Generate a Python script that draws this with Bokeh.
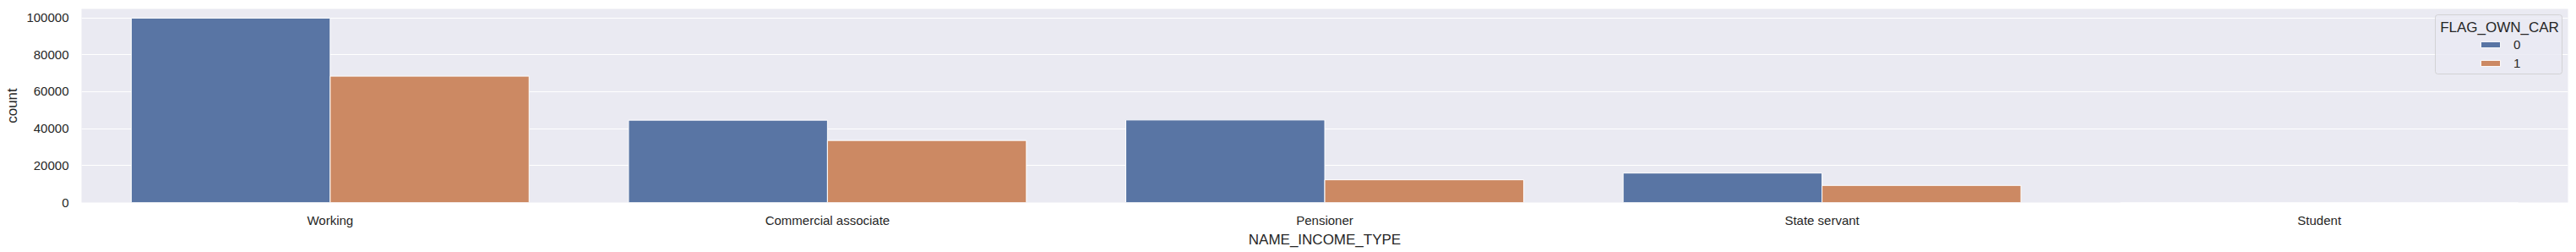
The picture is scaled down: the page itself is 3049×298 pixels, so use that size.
from bokeh.plotting import figure
from bokeh.models import (ColumnDataSource, FactorRange, Range1d, Legend, LegendItem,
                          BasicTickFormatter, FixedTicker, Label, BoxAnnotation)
from bokeh.transform import dodge
from bokeh.embed import file_html
from bokeh.resources import INLINE

categories = ["Working", "Commercial associate", "Pensioner", "State servant", "Student"]
hue_title = "FLAG_OWN_CAR"
hue_levels = ["0", "1"]
count_0 = [99850, 44580, 44700, 15950, 10]
count_1 = [68400, 33590, 12300, 9250, 6]
y_ticks = [0, 20000, 40000, 60000, 80000, 100000]

FONT = "Liberation Sans"
TEXT = "#262626"
BLUE = "#5975A4"
ORANGE = "#CC8963"

src = ColumnDataSource(dict(cat=categories, c0=count_0, c1=count_1))

ymax = max(max(count_0), max(count_1)) * 1.05

W, H = 3049, 298
BL, BR, BT, BB = 96, 10, 10, 59

p = figure(width=W, height=H,
           x_range=FactorRange(*categories, range_padding=0),
           y_range=Range1d(0, ymax),
           output_backend="svg", toolbar_location=None,
           min_border_left=BL, min_border_right=BR,
           min_border_top=BT, min_border_bottom=BB)

p.background_fill_color = "#EAEAF2"
p.border_fill_color = "white"
p.outline_line_color = None

r0 = p.vbar(x=dodge("cat", -0.2, range=p.x_range), top="c0", width=0.4, source=src,
            fill_color=BLUE, line_color="white", line_width=1)
r1 = p.vbar(x=dodge("cat", 0.2, range=p.x_range), top="c1", width=0.4, source=src,
            fill_color=ORANGE, line_color="white", line_width=1)

p.xgrid.grid_line_color = None
p.ygrid.grid_line_color = "white"
p.ygrid.grid_line_width = 1.2
p.ygrid.level = "underlay"

p.yaxis.ticker = FixedTicker(ticks=y_ticks)
p.yaxis.formatter = BasicTickFormatter(use_scientific=False)

for ax in (p.xaxis[0], p.yaxis[0]):
    ax.axis_line_color = None
    ax.major_tick_line_color = None
    ax.minor_tick_line_color = None
    ax.major_tick_out = 0
    ax.major_tick_in = 0
    ax.minor_tick_out = 0
    ax.major_label_text_font = FONT
    ax.major_label_text_font_size = "15px"
    ax.major_label_text_color = TEXT
    ax.axis_label_text_font = FONT
    ax.axis_label_text_font_size = "17px"
    ax.axis_label_text_color = TEXT
    ax.axis_label_text_font_style = "normal"

p.xaxis.axis_label = "NAME_INCOME_TYPE"
p.yaxis.axis_label = "count"
p.xaxis.major_label_standoff = 12
p.xaxis.axis_label_standoff = 2
p.yaxis.major_label_standoff = 15
p.yaxis.axis_label_standoff = 4

# legend frame (screen px relative to the plot frame, measured from bottom-left)
frame_h = H - BT - BB
box = BoxAnnotation(left=2882 - BL, right=3032 - BL,
                    top=frame_h - (17 - BT), bottom=frame_h - (87 - BT),
                    left_units="screen", right_units="screen",
                    top_units="screen", bottom_units="screen",
                    fill_color="#EAEAF2", fill_alpha=0.8,
                    line_color="#CCCCCC", line_alpha=0.8, line_width=1,
                    border_radius=3, level="annotation")
p.add_layout(box)

title = Label(x=2958 - BL, y=frame_h - (32 - BT), x_units="screen", y_units="screen",
              text=hue_title, text_font=FONT, text_font_size="17px", text_color=TEXT,
              text_align="center", text_baseline="middle", level="annotation")
p.add_layout(title)

legend = Legend(items=[LegendItem(label=hue_levels[0], renderers=[r0]),
                       LegendItem(label=hue_levels[1], renderers=[r1])],
                location=(2933 - BL, frame_h - (84 - BT)))
legend.background_fill_alpha = 0
legend.border_line_color = None
legend.margin = 0
legend.padding = 0
legend.spacing = 2
legend.glyph_width = 29
legend.glyph_height = 9
legend.label_height = 20
legend.label_standoff = 13
legend.label_text_font = FONT
legend.label_text_font_size = "15px"
legend.label_text_color = TEXT
p.add_layout(legend)

open("out.html", "w").write(file_html(p, INLINE))
